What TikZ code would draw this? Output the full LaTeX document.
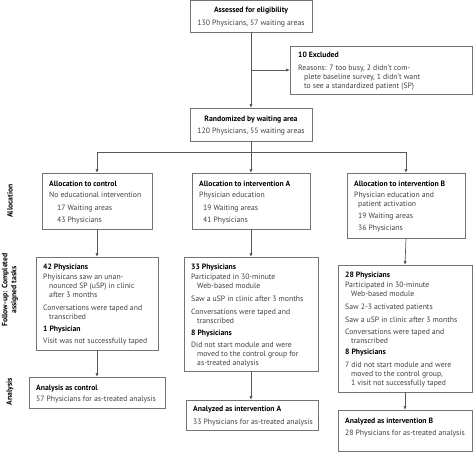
\documentclass[tikz,border=0pt]{standalone}
\usepackage{fontspec}
\setmainfont{PT Sans}
\usetikzlibrary{arrows.meta}
\definecolor{txtgray}{gray}{0.25}
\definecolor{linegray}{gray}{0.35}
\definecolor{boxgray}{gray}{0.45}
\newcommand\ind{\hspace*{6pt}}
\newcommand\tl[1]{\begin{tabular}[t]{@{}l@{}}#1\end{tabular}}
\newcommand\tcn[1]{\begin{tabular}[t]{@{}c@{}}#1\end{tabular}}
\newcommand\mkbox[5]{\node[boxst, minimum width={(#4-#2)*1pt}, minimum height={(#5-#3)*1pt}] (#1) at ({(#2+#4)/2},{(#3+#5)/2}) {};}
\begin{document}
\begin{tikzpicture}[x=1pt,y=-1pt,
  boxst/.style={draw=boxgray, line width=0.7pt, inner sep=0pt, outer sep=0pt, fill=white},
  txt/.style={anchor=base west, inner sep=0pt, text=txtgray, font=\fontsize{7.7}{9}\selectfont},
  ctxt/.style={anchor=base, inner sep=0pt, text=txtgray, font=\fontsize{7.7}{9}\selectfont},
  lab/.style={rotate=90, inner sep=0pt, align=center, text=black, font=\fontsize{7.7}{9}\selectfont\bfseries},
  arr/.style={draw=linegray, line width=0.7pt, -{Latex[length=4pt,width=3.2pt]}},
  ln/.style={draw=linegray, line width=0.7pt}]
\useasboundingbox (0,0) rectangle (474,451);
\newcommand\tb[1]{\textbf{\textcolor{black}{#1}}}
% boxes
\mkbox{top}{190}{0}{312}{32}
\mkbox{excl}{290}{46}{472}{94}
\mkbox{rnd}{190}{108}{312}{141}
\mkbox{ac}{42}{173}{152}{229}
\mkbox{aa}{192}{173}{310}{229}
\mkbox{ab}{347}{173}{465}{238}
\mkbox{fc}{36}{257}{158}{350}
\mkbox{fa}{184}{257}{318}{371}
\mkbox{fb}{338}{265}{472}{392}
\mkbox{nc}{29}{377}{165}{408}
\mkbox{na}{186}{400}{318}{430}
\mkbox{nb}{338}{410}{472}{451}
% texts
\node[ctxt] (topt) at (251,12.5) {\tcn{\tb{Assessed for eligibility}\\[4pt]130 Physicians, 57 waiting areas}};
\node[txt] (exclt) at (298,57.5) {\tl{\tb{10 Excluded}\\[4pt]Reasons: 7 too busy, 2 didn't com-\\\ind plete baseline survey, 1 didn't want\\\ind to see a standardized patient (SP)}};
\node[ctxt] (rndt) at (251,121.5) {\tcn{\tb{Randomized by waiting area}\\[3pt]120 Physicians, 55 waiting areas}};
\node[txt] (act) at (49,186.5) {\tl{\tb{Allocation to control}\\[2pt]No educational intervention\\[4pt]\hspace*{8pt}17 Waiting areas\\[3pt]\hspace*{8pt}43 Physicians}};
\node[txt] (aat) at (199,186.5) {\tl{\tb{Allocation to intervention A}\\[2pt]Physician education\\[4pt]\hspace*{4pt}19 Waiting areas\\[3pt]\hspace*{4pt}41 Physicians}};
\node[txt] (abt) at (354,186.5) {\tl{\tb{Allocation to intervention B}\\[2pt]Physician education and\\\hspace*{4pt}patient activation\\[3pt]\hspace*{4pt}19 Waiting areas\\[3pt]\hspace*{4pt}36 Physicians}};
\node[txt] (fct) at (43,269.5) {\tl{\tb{42 Physicians}\\[1pt]Phyisicans saw an unan-\\\ind nounced SP (uSP) in clinic\\\ind after 3 months\\[4pt]Conversations were taped and\\\ind transcribed\\[3pt]\tb{1 Physician}\\[3pt]Visit was not successfully taped}};
\node[txt] (fat) at (191,269.5) {\tl{\tb{33 Physicians}\\[1pt]Participated in 30-minute\\\ind Web-based module\\[4pt]Saw a uSP in clinic after 3 months\\[4pt]Conversations were taped and\\\ind transcribed\\[3pt]\tb{8 Physicians}\\[3pt]Did not start module and were\\\ind moved to the control group for\\\ind as-treated analysis}};
\node[txt] (fbt) at (345,277.5) {\tl{\tb{28 Physicians}\\[1pt]Participated in 30-minute\\\ind Web-based module\\[4pt]Saw 2-3 activated patients\\[4pt]Saw a uSP in clinic after 3 months\\[3pt]Conversations were taped and\\\ind transcribed\\[2pt]\tb{8 Physicians}\\[4pt]7 did not start module and were\\\ind moved to the control group,\\\ind 1 visit not successfully taped}};
\node[txt] (nct) at (36,390.5) {\tl{\tb{Analysis as control}\\[2pt]57 Physicians for as-treated analysis}};
\node[txt] (nat) at (193,411.5) {\tl{\tb{Analyzed as intervention A}\\[4pt]33 Physicians for as-treated analysis}};
\node[txt] (nbt) at (345,423.5) {\tl{\tb{Analyzed as intervention B}\\[3pt]28 Physicians for as-treated analysis}};
% side labels
\node[lab] (lalloc) at (10,201) {Allocation};
\node[lab] (lfollow) at (10,290) {Follow-up: Completed\\assigned tasks};
\node[lab] (lanal) at (10,392) {Analysis};
% connectors
\draw[arr] (top.south) -- (rnd.north);
\draw[arr] (top.south |- excl.west) -- (excl.west);
\coordinate (split) at (251,152);
\draw[ln] (rnd.south) -- (split);
\draw[arr] (split) -| (ac.north);
\draw[arr] (split) -| (ab.north);
\draw[arr] (split) -- (aa.north);
\draw[arr] (ac.south) -- (fc.north);
\draw[arr] (aa.south -| fa.north) -- (fa.north);
\draw[arr] (ab.south) -- (fb.north);
\draw[arr] (fc.south) -- (nc.north);
\draw[arr] (fa.south) -- (fa.south |- na.north);
\draw[arr] (fb.south) -- (nb.north);
\end{tikzpicture}
\end{document}
